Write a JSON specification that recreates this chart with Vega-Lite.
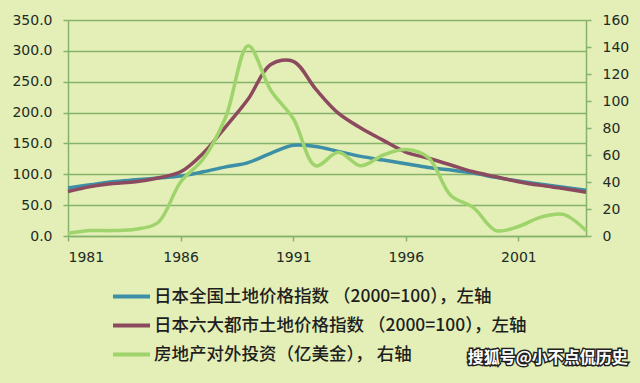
{
  "$schema": "https://vega.github.io/schema/vega-lite/v6.json",
  "width": 518,
  "height": 216,
  "autosize": {"type": "none"},
  "padding": {"left": 68, "top": 20, "right": 54, "bottom": 147},
  "background": "#e3efb6",
  "config": {
    "view": {"stroke": null},
    "axis": {
      "labelFont": "DejaVu Sans",
      "labelFontSize": 14,
      "labelColor": "#1e2b26",
      "labelOverlap": false,
      "domainColor": "#86b36c",
      "tickColor": "#86b36c",
      "gridColor": "#86b36c",
      "domainWidth": 1.5,
      "tickWidth": 1.5,
      "gridWidth": 1.5,
      "tickSize": 5,
      "title": null
    },
    "legend": {
      "orient": "none",
      "legendX": 43,
      "legendY": 256,
      "direction": "vertical",
      "symbolType": "stroke",
      "symbolStrokeWidth": 4,
      "symbolSize": 1369,
      "labelFont": "Noto Sans CJK SC",
      "labelFontSize": 17.5,
      "labelFontWeight": 500,
      "labelColor": "#1e1e1e",
      "labelOffset": 2,
      "rowPadding": 0,
      "labelLimit": 600
    }
  },
  "data": {
    "values": [
      {"year": 1981, "series": "national", "value": 78},
      {"year": 1982, "series": "national", "value": 83},
      {"year": 1983, "series": "national", "value": 88},
      {"year": 1984, "series": "national", "value": 91},
      {"year": 1985, "series": "national", "value": 94},
      {"year": 1986, "series": "national", "value": 97},
      {"year": 1987, "series": "national", "value": 104},
      {"year": 1988, "series": "national", "value": 112},
      {"year": 1989, "series": "national", "value": 119},
      {"year": 1990, "series": "national", "value": 134},
      {"year": 1991, "series": "national", "value": 147},
      {"year": 1992, "series": "national", "value": 145},
      {"year": 1993, "series": "national", "value": 137},
      {"year": 1994, "series": "national", "value": 129},
      {"year": 1995, "series": "national", "value": 123},
      {"year": 1996, "series": "national", "value": 117},
      {"year": 1997, "series": "national", "value": 111},
      {"year": 1998, "series": "national", "value": 107},
      {"year": 1999, "series": "national", "value": 102},
      {"year": 2000, "series": "national", "value": 95},
      {"year": 2001, "series": "national", "value": 89},
      {"year": 2002, "series": "national", "value": 84},
      {"year": 2003, "series": "national", "value": 79},
      {"year": 2004, "series": "national", "value": 74},
      {"year": 1981, "series": "six", "value": 72},
      {"year": 1982, "series": "six", "value": 80},
      {"year": 1983, "series": "six", "value": 85},
      {"year": 1984, "series": "six", "value": 88},
      {"year": 1985, "series": "six", "value": 94},
      {"year": 1986, "series": "six", "value": 104},
      {"year": 1987, "series": "six", "value": 134},
      {"year": 1988, "series": "six", "value": 177},
      {"year": 1989, "series": "six", "value": 222},
      {"year": 1990, "series": "six", "value": 278},
      {"year": 1991, "series": "six", "value": 283},
      {"year": 1992, "series": "six", "value": 238},
      {"year": 1993, "series": "six", "value": 199},
      {"year": 1994, "series": "six", "value": 175},
      {"year": 1995, "series": "six", "value": 155},
      {"year": 1996, "series": "six", "value": 136},
      {"year": 1997, "series": "six", "value": 126},
      {"year": 1998, "series": "six", "value": 115},
      {"year": 1999, "series": "six", "value": 104},
      {"year": 2000, "series": "six", "value": 96},
      {"year": 2001, "series": "six", "value": 88},
      {"year": 2002, "series": "six", "value": 82},
      {"year": 2003, "series": "six", "value": 77},
      {"year": 2004, "series": "six", "value": 71},
      {"year": 1981, "series": "invest", "value": 2},
      {"year": 1982, "series": "invest", "value": 4},
      {"year": 1983, "series": "invest", "value": 4},
      {"year": 1984, "series": "invest", "value": 5},
      {"year": 1985, "series": "invest", "value": 10},
      {"year": 1986, "series": "invest", "value": 40},
      {"year": 1987, "series": "invest", "value": 57},
      {"year": 1988, "series": "invest", "value": 88},
      {"year": 1989, "series": "invest", "value": 141},
      {"year": 1990, "series": "invest", "value": 108},
      {"year": 1991, "series": "invest", "value": 87},
      {"year": 1992, "series": "invest", "value": 52},
      {"year": 1993, "series": "invest", "value": 62},
      {"year": 1994, "series": "invest", "value": 52},
      {"year": 1995, "series": "invest", "value": 60},
      {"year": 1996, "series": "invest", "value": 64},
      {"year": 1997, "series": "invest", "value": 58},
      {"year": 1998, "series": "invest", "value": 30},
      {"year": 1999, "series": "invest", "value": 21},
      {"year": 2000, "series": "invest", "value": 4},
      {"year": 2001, "series": "invest", "value": 7},
      {"year": 2002, "series": "invest", "value": 14},
      {"year": 2003, "series": "invest", "value": 16},
      {"year": 2004, "series": "invest", "value": 4}
    ]
  },
  "encoding": {
    "x": {
      "field": "year",
      "type": "quantitative",
      "scale": {"domain": [1981, 2004], "nice": false, "zero": false},
      "axis": {"values": [1981, 1986, 1991, 1996, 2001], "format": "d", "grid": false, "labelPadding": 9, "title": null}
    }
  },
  "layer": [
    {
      "encoding": {
        "y": {
          "field": "value",
          "type": "quantitative",
          "scale": {"domain": [0, 350], "nice": false},
          "axis": {"values": [0, 50, 100, 150, 200, 250, 300, 350], "format": ".1f", "grid": true, "labelPadding": 11, "title": null}
        }
      },
      "layer": [
        {
          "transform": [{"filter": "datum.series !== 'invest'"}],
          "mark": {"type": "line", "interpolate": "catmull-rom", "strokeWidth": 3.5},
          "encoding": {
            "color": {
              "field": "series",
              "type": "nominal",
              "scale": {"domain": ["national", "six", "invest"], "range": ["#3c8fa6", "#8c4a5e", "#9fd36c"]},
              "legend": {
                "title": null,
                "labelExpr": "datum.value === 'national' ? '日本全国土地价格指数 （2000=100），左轴' : datum.value === 'six' ? '日本六大都市土地价格指数 （2000=100），左轴' : '房地产对外投资（亿美金）， 右轴'"
              }
            }
          }
        },
        {
          "data": {"values": [{"year": 2002.3, "value": -198, "text": "搜狐号@小不点侃历史"}]},
          "mark": {"type": "text", "font": "Noto Sans CJK SC", "fontSize": 16, "fontWeight": "bold", "color": "#222222", "stroke": "#222222", "strokeWidth": 3},
          "encoding": {"text": {"field": "text"}}
        },
        {
          "data": {"values": [{"year": 2002.3, "value": -198, "text": "搜狐号@小不点侃历史"}]},
          "mark": {"type": "text", "font": "Noto Sans CJK SC", "fontSize": 16, "fontWeight": "bold", "color": "#ffffff"},
          "encoding": {"text": {"field": "text"}}
        }
      ]
    },
    {
      "transform": [{"filter": "datum.series === 'invest'"}],
      "mark": {"type": "line", "interpolate": "catmull-rom", "strokeWidth": 3.5},
      "encoding": {
        "y": {
          "field": "value",
          "type": "quantitative",
          "scale": {"domain": [0, 160], "nice": false},
          "axis": {"orient": "right", "values": [0, 20, 40, 60, 80, 100, 120, 140, 160], "format": "d", "grid": false, "labelPadding": 11, "title": null}
        },
        "color": {"field": "series", "type": "nominal"}
      }
    }
  ],
  "resolve": {"scale": {"y": "independent"}}
}
